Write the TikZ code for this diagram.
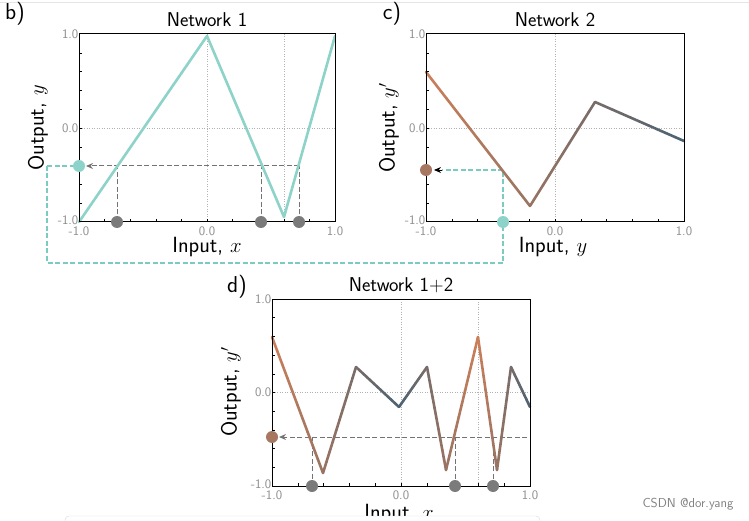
\documentclass[tikz,border=0pt]{standalone}
\usetikzlibrary{arrows.meta}
\definecolor{cyanc}{HTML}{8ED3C9}
\definecolor{cyand}{HTML}{7CCBC0}
\definecolor{orng}{HTML}{CC7F58}
\definecolor{slat}{HTML}{4C6272}
\definecolor{dotg}{HTML}{7B7B7B}
\definecolor{dotb}{HTML}{A87762}
\tikzset{
  frame/.style={draw=black,line width=1pt},
  grid/.style={draw=black!30,dotted,line width=0.5pt},
  guide/.style={draw=black!55,dashed,line width=1pt,dash pattern=on 5pt off 2.5pt},
  cguide/.style={draw=cyand,dashed,line width=1.1pt,dash pattern=on 5pt off 2.5pt},
  curve/.style={line width=2.6pt,line cap=round,line join=round},
  tick/.style={font=\sffamily\fontsize{13}{13}\selectfont,text=black!45,inner sep=0.5pt},
  ttl/.style={font=\sffamily\fontsize{20}{20}\selectfont},
  axl/.style={font=\sffamily\fontsize{22}{22}\selectfont},
  pl/.style={font=\sffamily\fontsize{23}{23}\selectfont},
  dot/.style={circle,fill=#1,inner sep=0pt,minimum size=12pt},
}
\newcommand{\gseg}[6]{% x1 y1 h1 x2 y2 h2
  \foreach \k in {0,...,9}{%
    \pgfmathsetmacro\xa{#1+(#4-#1)*\k/10}%
    \pgfmathsetmacro\ya{#2+(#5-#2)*\k/10}%
    \pgfmathsetmacro\xb{#1+(#4-#1)*(\k+1)/10}%
    \pgfmathsetmacro\yb{#2+(#5-#2)*(\k+1)/10}%
    \pgfmathsetmacro\hh{#3+(#6-#3)*(\k+0.5)/10}%
    \pgfmathsetmacro\pp{(\hh+1)*50}%
    \draw[curve,color=slat!\pp!orng] (\xa,\ya) -- (\xb,\yb);
  }}
\newcommand{\axbox}[4]{% left top right bottom
  \draw[frame] (#1,#2) rectangle (#3,#4);
  \foreach \t in {1,...,9}{
    \draw[black,line width=0.5pt] ({#1},{#2+(#4-#2)*\t/10}) -- ({#1+3},{#2+(#4-#2)*\t/10});
    \draw[black,line width=0.5pt] ({#1+(#3-#1)*\t/10},{#4}) -- ({#1+(#3-#1)*\t/10},{#4-3});
  }
  \node[tick,anchor=east] at (#1,#2) {1.0};
  \node[tick,anchor=east] at (#1,{(#2+#4)/2}) {0.0};
  \node[tick,anchor=east] at (#1,{#4-2}) {-1.0};
  \node[tick,anchor=north] at (#1,{#4+4}) {-1.0};
  \node[tick,anchor=north] at ({(#1+#3)/2},{#4+4}) {0.0};
  \node[tick,anchor=north] at (#3,{#4+4}) {1.0};
}
\begin{document}
\begin{tikzpicture}[x=1pt,y=-1pt]
\useasboundingbox (0,0) rectangle (749,521);
\fill[white] (0,0) rectangle (749,521);
\draw[black!10] (0,2) -- (749,2);
% ---------- panel b
\draw[grid] (207,34) -- (207,222);
\draw[grid] (284,34) -- (284,222);
\draw[grid] (79,128) -- (335,128);
\draw[cguide] (47,166) -- (47,263) -- (503,263) -- (503,222);
\draw[guide] (117,222) -- (117,166);
\draw[guide] (261,222) -- (261,166);
\draw[guide] (299,222) -- (299,166);
\draw[guide,-{Stealth[length=7pt,width=6pt,open]}] (299,166) -- (86,166);
\draw[cguide] (47,166) -- (75,166);
\draw[curve,cyanc] (79,222) -- (207,36) -- (284,217) -- (335,36);
\axbox{79}{34}{335}{222}
\node[dot=cyanc] (bd) at (79,166) {};
\node[dot=dotg] (b1) at (117,222) {};
\node[dot=dotg] (b2) at (261,222) {};
\node[dot=dotg] (b3) at (299,222) {};
\node[ttl] (bt) at (207,20) {Network 1};
\node[pl] (bl) at (15,14) {b)};
\node[axl] (bx) at (207,247) {Input, $x$};
\node[axl,rotate=90] (by) at (38,128) {Output, $y$};
% ---------- panel c
\draw[grid] (555,34) -- (555,222);
\draw[grid] (426,128) -- (684,128);
\draw[cguide] (503,222) -- (503,170);
\draw[cguide] (503,170) -- (442,170);
\draw[-{Stealth[length=7pt,width=6pt]},black,line width=0.9pt] (442,170) -- (434,170);
\gseg{426}{72}{-1}{530}{206}{-0.19}
\gseg{530}{206}{-0.19}{595}{102}{0.31}
\gseg{595}{102}{0.31}{684}{141}{1}
\axbox{426}{34}{684}{222}
\node[dot=dotb] (cd) at (426,170) {};
\node[dot=cyanc] (cc) at (503,222) {};
\node[ttl] (ct) at (555,20) {Network 2};
\node[pl] (cl) at (392,14) {c)};
\node[axl] (cx) at (553,247) {Input, $y$};
\node[axl,rotate=90] (cy) at (389,128) {Output, $y'$};
% ---------- panel d
\draw[grid] (401,299) -- (401,486);
\draw[grid] (478,299) -- (478,486);
\draw[grid] (272,392) -- (530,392);
\draw[guide] (312,486) -- (312,437);
\draw[guide] (455,486) -- (455,437);
\draw[guide] (493,486) -- (493,437);
\draw[guide,-{Stealth[length=7pt,width=6pt,open]}] (527,437) -- (279,437);
\gseg{272}{337}{-1}{323}{473}{-0.2}
\gseg{323}{473}{-0.2}{356}{367}{0.3}
\gseg{356}{367}{0.3}{399}{407}{1}
\gseg{399}{407}{1}{427}{367}{0.3}
\gseg{427}{367}{0.3}{446}{470}{-0.2}
\gseg{446}{470}{-0.2}{478}{337}{-1}
\gseg{478}{337}{-1}{497}{470}{-0.2}
\gseg{497}{470}{-0.2}{511}{367}{0.3}
\gseg{511}{367}{0.3}{530}{407}{1}
\axbox{272}{299}{530}{486}
\node[dot=dotb] (dd) at (272,437) {};
\node[dot=dotg] (d1) at (312,486) {};
\node[dot=dotg] (d2) at (455,486) {};
\node[dot=dotg] (d3) at (493,486) {};
\node[ttl] (dt) at (401,285) {Network 1+2};
\node[pl] (dl) at (237,287) {d)};
\node[axl] (dx) at (399,514) {Input, $x$};
\node[axl,rotate=90] (dy) at (231,392) {Output, $y'$};
% ---------- page bits
\fill[white] (65,516) rectangle (540,530);
\draw[black!15,rounded corners=4pt] (65,530) -- (65,516) -- (540,516) -- (540,530);
\node[font=\sffamily\fontsize{13}{13}\selectfont,text=black!50,anchor=east] (wm) at (737,504) {CSDN @dor.yang};
\end{tikzpicture}
\end{document}
